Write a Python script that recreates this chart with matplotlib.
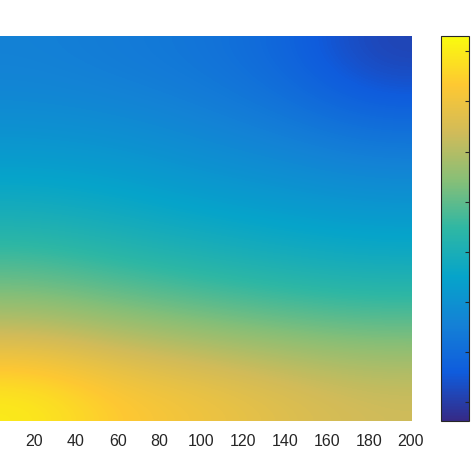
import numpy as np
import matplotlib
matplotlib.use('Agg')
import matplotlib.pyplot as plt
from matplotlib.colors import LinearSegmentedColormap

# coarse field (rows top -> bottom, cols left -> right), normalised 0..1
field = [
    [0.25, 0.23, 0.21, 0.16, 0.06],
    [0.31, 0.30, 0.27, 0.24, 0.20],
    [0.40, 0.38, 0.35, 0.33, 0.31],
    [0.53, 0.49, 0.46, 0.43, 0.41],
    [0.70, 0.66, 0.62, 0.59, 0.57],
    [0.97, 0.88, 0.84, 0.79, 0.75],
]
xticks = [20, 40, 60, 80, 100, 120, 140, 160, 180, 200]
cbar_ticks = [0.05, 0.18, 0.31, 0.44, 0.57, 0.70, 0.83, 0.96]

parula = LinearSegmentedColormap.from_list('parula', [
    '#352a87', '#0f5cdd', '#1481d6', '#06a4ca', '#2eb7a4',
    '#87bf77', '#d1bb59', '#fec832', '#f9fb0e'])

plt.rcParams['font.family'] = ['Liberation Sans', 'DejaVu Sans']
fig = plt.figure(figsize=(4.74, 4.74), dpi=100)
ax = fig.add_axes([-7 / 474, 53 / 474, 419 / 474, 385 / 474])
im = ax.imshow(np.array(field), cmap=parula, vmin=0, vmax=1, aspect='auto',
               interpolation='bicubic', extent=[0.5, 200.5, 200.5, 0.5])
ax.set_xticks(xticks)
ax.set_yticks([])
ax.tick_params(axis='x', direction='in', length=0, labelsize=11.5, pad=9,
               colors='#262626')
for s in ax.spines.values():
    s.set_visible(False)

cax = fig.add_axes([441 / 474, 53 / 474, 28 / 474, 385 / 474])
cb = fig.colorbar(im, cax=cax)
cb.set_ticks(cbar_ticks)
cb.ax.tick_params(direction='in', length=3, labelright=False, colors='#262626')
cb.outline.set_edgecolor('#262626')
cb.outline.set_linewidth(0.8)

fig.savefig('out.png', dpi=100)
